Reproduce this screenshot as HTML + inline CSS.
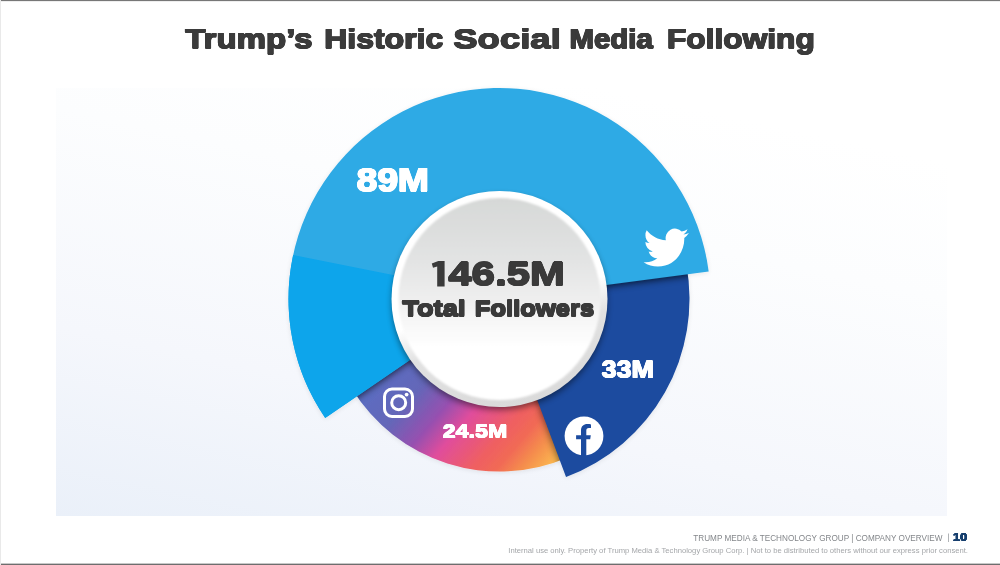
<!DOCTYPE html>
<html><head><meta charset="utf-8"><title>Trump's Historic Social Media Following</title>
<style>
html,body{margin:0;padding:0;background:#fff;}
body{width:1000px;height:565px;overflow:hidden;position:relative;font-family:"Liberation Sans",sans-serif;}
svg{position:absolute;left:0;top:0;display:block;}
text{font-family:"Liberation Sans",sans-serif;}
</style></head><body>
<svg width="1000" height="565" viewBox="0 0 1000 565">
<defs>
<linearGradient id="panel" gradientUnits="userSpaceOnUse" x1="600" y1="88" x2="488" y2="610">
<stop offset="0" stop-color="#ffffff"/><stop offset="0.25" stop-color="#fcfdfe"/><stop offset="0.65" stop-color="#f5f7fc"/><stop offset="1" stop-color="#eaf0f9"/>
</linearGradient>
<linearGradient id="ig" gradientUnits="userSpaceOnUse" x1="360" y1="395" x2="504.4" y2="518.5">
<stop offset="0" stop-color="#5a6ec2"/><stop offset="0.22" stop-color="#6566b8"/><stop offset="0.38" stop-color="#9650b0"/>
<stop offset="0.51" stop-color="#e04d9c"/><stop offset="0.70" stop-color="#ef5f62"/><stop offset="0.80" stop-color="#f16a55"/><stop offset="0.90" stop-color="#f58f4d"/><stop offset="1" stop-color="#fbb450"/>
</linearGradient>
<linearGradient id="disc" x1="0" y1="0" x2="0" y2="1">
<stop offset="0" stop-color="#d6d8d7"/><stop offset="0.3" stop-color="#e2e3e3"/><stop offset="0.5" stop-color="#eeeeee"/><stop offset="0.6" stop-color="#f6f6f6"/><stop offset="0.74" stop-color="#ffffff"/><stop offset="1" stop-color="#ffffff"/>
</linearGradient>
<linearGradient id="rim" gradientUnits="userSpaceOnUse" x1="471.5" y1="194.7" x2="527.5" y2="403.3">
<stop offset="0" stop-color="#ffffff"/><stop offset="0.52" stop-color="#ffffff"/><stop offset="0.68" stop-color="#e1e1e1"/><stop offset="1" stop-color="#dadada"/>
</linearGradient>
<filter id="sh" x="-20%" y="-20%" width="140%" height="140%"><feGaussianBlur in="SourceAlpha" stdDeviation="4"/><feOffset dx="0" dy="2"/><feComponentTransfer><feFuncA type="linear" slope="0.45"/></feComponentTransfer><feMerge><feMergeNode/><feMergeNode in="SourceGraphic"/></feMerge></filter>
<filter id="sh2" x="-20%" y="-20%" width="140%" height="140%"><feGaussianBlur in="SourceAlpha" stdDeviation="3"/><feOffset dx="0" dy="1"/><feComponentTransfer><feFuncA type="linear" slope="0.5"/></feComponentTransfer><feMerge><feMergeNode/><feMergeNode in="SourceGraphic"/></feMerge></filter>
<clipPath id="clipIG"><path d="M568.32 457.28A172.6 172.6 0 0 1 352.02 388.67L414.05 350.95A100 100 0 0 0 539.37 390.71Z"/></clipPath>
<clipPath id="clipIGFB"><path d="M568.32 457.28A172.6 172.6 0 0 1 352.02 388.67L414.05 350.95A100 100 0 0 0 539.37 390.71Z"/><path d="M686.32 264.38A190.0 190.0 0 0 1 566.04 476.97L534.52 392.67A100 100 0 0 0 597.83 280.78Z"/></clipPath>
<clipPath id="clipAll"><path d="M568.32 457.28A172.6 172.6 0 0 1 352.02 388.67L414.05 350.95A100 100 0 0 0 539.37 390.71Z"/><path d="M686.32 264.38A190.0 190.0 0 0 1 566.04 476.97L534.52 392.67A100 100 0 0 0 597.83 280.78Z"/><path d="M325.19 417.90A211.0 211.0 0 1 1 708.69 271.46L598.64 285.95A100 100 0 1 0 416.89 355.35Z"/></clipPath>
<filter id="blurIn" x="-20%" y="-20%" width="140%" height="140%"><feGaussianBlur stdDeviation="3.5"/></filter>
<filter id="soft" x="-5%" y="-5%" width="110%" height="110%"><feGaussianBlur stdDeviation="0.9"/></filter>
<filter id="blurBtn" x="-20%" y="-20%" width="140%" height="140%"><feGaussianBlur stdDeviation="3"/></filter>
<filter id="shOut" x="-20%" y="-20%" width="140%" height="140%"><feGaussianBlur in="SourceAlpha" stdDeviation="2.5"/><feOffset dx="0" dy="1"/><feComponentTransfer><feFuncA type="linear" slope="0.09"/></feComponentTransfer><feMerge><feMergeNode/><feMergeNode in="SourceGraphic"/></feMerge></filter>
</defs>
<rect x="0" y="0" width="1000" height="565" fill="#fff"/>
<rect x="56" y="88" width="891" height="428" fill="url(#panel)"/>
<!-- segments -->
<path d="M568.32 457.28A172.6 172.6 0 0 1 352.02 388.67L414.05 350.95A100 100 0 0 0 539.37 390.71Z" fill="url(#ig)" filter="url(#shOut)"/>
<g clip-path="url(#clipIG)"><path d="M686.32 264.38A190.0 190.0 0 0 1 566.04 476.97L534.52 392.67A100 100 0 0 0 597.83 280.78Z" fill="#000" filter="url(#blurIn)" opacity="0.42" transform="translate(-1 1)"/></g>
<path d="M686.32 264.38A190.0 190.0 0 0 1 566.04 476.97L534.52 392.67A100 100 0 0 0 597.83 280.78Z" fill="#1b4b9f" filter="url(#shOut)"/>
<g clip-path="url(#clipIGFB)"><path d="M325.19 417.90A211.0 211.0 0 1 1 708.69 271.46L598.64 285.95A100 100 0 1 0 416.89 355.35Z" fill="#000" filter="url(#blurIn)" opacity="0.6" transform="translate(0 2)"/></g>
<g filter="url(#shOut)"><path d="M325.19 417.90A211.0 211.0 0 1 1 708.69 271.46L598.64 285.95A100 100 0 1 0 416.89 355.35Z" fill="#2faae5"/><path d="M325.19 417.90A211.0 211.0 0 0 1 293.15 254.95L402.02 276.67A100 100 0 0 0 416.89 355.35Z" fill="#0ca5eb"/></g>
<!-- centre button -->
<g clip-path="url(#clipAll)"><circle cx="499.5" cy="302.5" r="107.5" fill="#000" filter="url(#blurBtn)" opacity="0.45"/></g>
<circle cx="499.5" cy="299.0" r="108" fill="url(#rim)"/>
<circle cx="499.5" cy="299.0" r="101" fill="url(#disc)" filter="url(#soft)"/>
<!-- icons -->
<g transform="translate(643.6 224.2) scale(1.8875 1.944)"><path d="M23.953 4.57a10 10 0 01-2.825.775 4.958 4.958 0 002.163-2.723c-.951.555-2.005.959-3.127 1.184a4.92 4.92 0 00-8.384 4.482C7.69 8.095 4.067 6.13 1.64 3.162a4.822 4.822 0 00-.666 2.475c0 1.71.87 3.213 2.188 4.096a4.904 4.904 0 01-2.228-.616v.06a4.923 4.923 0 003.946 4.827 4.996 4.996 0 01-2.212.085 4.936 4.936 0 004.604 3.417 9.867 9.867 0 01-6.102 2.105c-.39 0-.779-.023-1.17-.067a13.995 13.995 0 007.557 2.209c9.053 0 13.998-7.496 13.998-13.985 0-.21 0-.42-.015-.63A9.935 9.935 0 0024 4.59z" fill="#fff"/></g>
<circle cx="584" cy="436" r="19.4" fill="#fff"/>
<path d="M581 456V439.3H576.1V435.3H581V430.6C581 426.4 583.6 424.1 587.4 424.1C589 424.1 590.2 424.25 591 424.4V428H588.9C587 428 586.3 428.9 586.3 430.7V435.3H590.8L590.2 439.3H586.3V456Z" fill="#1b4b9f"/>
<g fill="none" stroke="#fff" stroke-width="3"><rect x="384.5" y="389" width="28" height="27.5" rx="7.5"/><circle cx="398.7" cy="402.7" r="7"/></g>
<circle cx="406.6" cy="394.6" r="1.9" fill="#fff"/>
<!-- labels -->
<g opacity="0.999">
<g fill="#fff"><text x="356.59" y="191.39" font-size="32.55" font-weight="bold" textLength="72.39" lengthAdjust="spacingAndGlyphs">89M</text><text x="357.45" y="191.39" font-size="32.55" font-weight="bold" textLength="72.39" lengthAdjust="spacingAndGlyphs">89M</text><text x="357.20" y="192.00" font-size="32.55" font-weight="bold" textLength="72.39" lengthAdjust="spacingAndGlyphs">89M</text><text x="356.59" y="192.25" font-size="32.55" font-weight="bold" textLength="72.39" lengthAdjust="spacingAndGlyphs">89M</text><text x="355.98" y="192.00" font-size="32.55" font-weight="bold" textLength="72.39" lengthAdjust="spacingAndGlyphs">89M</text><text x="355.73" y="191.39" font-size="32.55" font-weight="bold" textLength="72.39" lengthAdjust="spacingAndGlyphs">89M</text><text x="355.98" y="190.78" font-size="32.55" font-weight="bold" textLength="72.39" lengthAdjust="spacingAndGlyphs">89M</text><text x="356.59" y="190.53" font-size="32.55" font-weight="bold" textLength="72.39" lengthAdjust="spacingAndGlyphs">89M</text><text x="357.20" y="190.78" font-size="32.55" font-weight="bold" textLength="72.39" lengthAdjust="spacingAndGlyphs">89M</text></g>
<g fill="#fff"><text x="601.64" y="377.61" font-size="23.92" font-weight="bold" textLength="52.28" lengthAdjust="spacingAndGlyphs">33M</text><text x="602.27" y="377.61" font-size="23.92" font-weight="bold" textLength="52.28" lengthAdjust="spacingAndGlyphs">33M</text><text x="602.09" y="378.06" font-size="23.92" font-weight="bold" textLength="52.28" lengthAdjust="spacingAndGlyphs">33M</text><text x="601.64" y="378.25" font-size="23.92" font-weight="bold" textLength="52.28" lengthAdjust="spacingAndGlyphs">33M</text><text x="601.19" y="378.06" font-size="23.92" font-weight="bold" textLength="52.28" lengthAdjust="spacingAndGlyphs">33M</text><text x="601.00" y="377.61" font-size="23.92" font-weight="bold" textLength="52.28" lengthAdjust="spacingAndGlyphs">33M</text><text x="601.19" y="377.16" font-size="23.92" font-weight="bold" textLength="52.28" lengthAdjust="spacingAndGlyphs">33M</text><text x="601.64" y="376.98" font-size="23.92" font-weight="bold" textLength="52.28" lengthAdjust="spacingAndGlyphs">33M</text><text x="602.09" y="377.16" font-size="23.92" font-weight="bold" textLength="52.28" lengthAdjust="spacingAndGlyphs">33M</text></g>
<g fill="#fff"><text x="442.75" y="437.74" font-size="18.94" font-weight="bold" textLength="64.53" lengthAdjust="spacingAndGlyphs">24.5M</text><text x="443.26" y="437.74" font-size="18.94" font-weight="bold" textLength="64.53" lengthAdjust="spacingAndGlyphs">24.5M</text><text x="443.11" y="438.10" font-size="18.94" font-weight="bold" textLength="64.53" lengthAdjust="spacingAndGlyphs">24.5M</text><text x="442.75" y="438.25" font-size="18.94" font-weight="bold" textLength="64.53" lengthAdjust="spacingAndGlyphs">24.5M</text><text x="442.39" y="438.10" font-size="18.94" font-weight="bold" textLength="64.53" lengthAdjust="spacingAndGlyphs">24.5M</text><text x="442.24" y="437.74" font-size="18.94" font-weight="bold" textLength="64.53" lengthAdjust="spacingAndGlyphs">24.5M</text><text x="442.39" y="437.38" font-size="18.94" font-weight="bold" textLength="64.53" lengthAdjust="spacingAndGlyphs">24.5M</text><text x="442.75" y="437.23" font-size="18.94" font-weight="bold" textLength="64.53" lengthAdjust="spacingAndGlyphs">24.5M</text><text x="443.11" y="437.38" font-size="18.94" font-weight="bold" textLength="64.53" lengthAdjust="spacingAndGlyphs">24.5M</text></g>
<path d="M444.6 261V286.6H437.2V266.4L433 267.8L431.8 263.5L438.3 261Z" fill="#3a3a3a"/><g fill="#3a3a3a"><text x="448.41" y="285.35" font-size="33.88" font-weight="bold" textLength="116.50" lengthAdjust="spacingAndGlyphs">46.5M</text><text x="449.31" y="285.35" font-size="33.88" font-weight="bold" textLength="116.50" lengthAdjust="spacingAndGlyphs">46.5M</text><text x="449.04" y="285.98" font-size="33.88" font-weight="bold" textLength="116.50" lengthAdjust="spacingAndGlyphs">46.5M</text><text x="448.41" y="286.25" font-size="33.88" font-weight="bold" textLength="116.50" lengthAdjust="spacingAndGlyphs">46.5M</text><text x="447.78" y="285.98" font-size="33.88" font-weight="bold" textLength="116.50" lengthAdjust="spacingAndGlyphs">46.5M</text><text x="447.52" y="285.35" font-size="33.88" font-weight="bold" textLength="116.50" lengthAdjust="spacingAndGlyphs">46.5M</text><text x="447.78" y="284.72" font-size="33.88" font-weight="bold" textLength="116.50" lengthAdjust="spacingAndGlyphs">46.5M</text><text x="448.41" y="284.46" font-size="33.88" font-weight="bold" textLength="116.50" lengthAdjust="spacingAndGlyphs">46.5M</text><text x="449.04" y="284.72" font-size="33.88" font-weight="bold" textLength="116.50" lengthAdjust="spacingAndGlyphs">46.5M</text></g>
<g fill="#3a3a3a"><text x="402.31" y="315.96" font-size="21.82" font-weight="bold" textLength="63.19" lengthAdjust="spacingAndGlyphs">Total</text><text x="403.10" y="315.96" font-size="21.82" font-weight="bold" textLength="63.19" lengthAdjust="spacingAndGlyphs">Total</text><text x="402.87" y="316.52" font-size="21.82" font-weight="bold" textLength="63.19" lengthAdjust="spacingAndGlyphs">Total</text><text x="402.31" y="316.75" font-size="21.82" font-weight="bold" textLength="63.19" lengthAdjust="spacingAndGlyphs">Total</text><text x="401.75" y="316.52" font-size="21.82" font-weight="bold" textLength="63.19" lengthAdjust="spacingAndGlyphs">Total</text><text x="401.52" y="315.96" font-size="21.82" font-weight="bold" textLength="63.19" lengthAdjust="spacingAndGlyphs">Total</text><text x="401.75" y="315.40" font-size="21.82" font-weight="bold" textLength="63.19" lengthAdjust="spacingAndGlyphs">Total</text><text x="402.31" y="315.17" font-size="21.82" font-weight="bold" textLength="63.19" lengthAdjust="spacingAndGlyphs">Total</text><text x="402.87" y="315.40" font-size="21.82" font-weight="bold" textLength="63.19" lengthAdjust="spacingAndGlyphs">Total</text></g><g fill="#3a3a3a"><text x="474.77" y="315.96" font-size="21.82" font-weight="bold" textLength="119.44" lengthAdjust="spacingAndGlyphs">Followers</text><text x="475.56" y="315.96" font-size="21.82" font-weight="bold" textLength="119.44" lengthAdjust="spacingAndGlyphs">Followers</text><text x="475.33" y="316.52" font-size="21.82" font-weight="bold" textLength="119.44" lengthAdjust="spacingAndGlyphs">Followers</text><text x="474.77" y="316.75" font-size="21.82" font-weight="bold" textLength="119.44" lengthAdjust="spacingAndGlyphs">Followers</text><text x="474.21" y="316.52" font-size="21.82" font-weight="bold" textLength="119.44" lengthAdjust="spacingAndGlyphs">Followers</text><text x="473.98" y="315.96" font-size="21.82" font-weight="bold" textLength="119.44" lengthAdjust="spacingAndGlyphs">Followers</text><text x="474.21" y="315.40" font-size="21.82" font-weight="bold" textLength="119.44" lengthAdjust="spacingAndGlyphs">Followers</text><text x="474.77" y="315.17" font-size="21.82" font-weight="bold" textLength="119.44" lengthAdjust="spacingAndGlyphs">Followers</text><text x="475.33" y="315.40" font-size="21.82" font-weight="bold" textLength="119.44" lengthAdjust="spacingAndGlyphs">Followers</text></g>
<g fill="#3b3b3b"><text x="185.23" y="48.26" font-size="26.96" font-weight="bold" textLength="127.30" lengthAdjust="spacingAndGlyphs">Trump’s</text><text x="185.96" y="48.26" font-size="26.96" font-weight="bold" textLength="127.30" lengthAdjust="spacingAndGlyphs">Trump’s</text><text x="185.75" y="48.78" font-size="26.96" font-weight="bold" textLength="127.30" lengthAdjust="spacingAndGlyphs">Trump’s</text><text x="185.23" y="48.99" font-size="26.96" font-weight="bold" textLength="127.30" lengthAdjust="spacingAndGlyphs">Trump’s</text><text x="184.71" y="48.78" font-size="26.96" font-weight="bold" textLength="127.30" lengthAdjust="spacingAndGlyphs">Trump’s</text><text x="184.50" y="48.26" font-size="26.96" font-weight="bold" textLength="127.30" lengthAdjust="spacingAndGlyphs">Trump’s</text><text x="184.71" y="47.74" font-size="26.96" font-weight="bold" textLength="127.30" lengthAdjust="spacingAndGlyphs">Trump’s</text><text x="185.23" y="47.53" font-size="26.96" font-weight="bold" textLength="127.30" lengthAdjust="spacingAndGlyphs">Trump’s</text><text x="185.75" y="47.74" font-size="26.96" font-weight="bold" textLength="127.30" lengthAdjust="spacingAndGlyphs">Trump’s</text></g><g fill="#3b3b3b"><text x="324.20" y="48.26" font-size="26.96" font-weight="bold" textLength="119.06" lengthAdjust="spacingAndGlyphs">Historic</text><text x="324.94" y="48.26" font-size="26.96" font-weight="bold" textLength="119.06" lengthAdjust="spacingAndGlyphs">Historic</text><text x="324.72" y="48.78" font-size="26.96" font-weight="bold" textLength="119.06" lengthAdjust="spacingAndGlyphs">Historic</text><text x="324.20" y="49.00" font-size="26.96" font-weight="bold" textLength="119.06" lengthAdjust="spacingAndGlyphs">Historic</text><text x="323.68" y="48.78" font-size="26.96" font-weight="bold" textLength="119.06" lengthAdjust="spacingAndGlyphs">Historic</text><text x="323.46" y="48.26" font-size="26.96" font-weight="bold" textLength="119.06" lengthAdjust="spacingAndGlyphs">Historic</text><text x="323.68" y="47.74" font-size="26.96" font-weight="bold" textLength="119.06" lengthAdjust="spacingAndGlyphs">Historic</text><text x="324.20" y="47.52" font-size="26.96" font-weight="bold" textLength="119.06" lengthAdjust="spacingAndGlyphs">Historic</text><text x="324.72" y="47.74" font-size="26.96" font-weight="bold" textLength="119.06" lengthAdjust="spacingAndGlyphs">Historic</text></g><g fill="#3b3b3b"><text x="453.23" y="48.26" font-size="26.96" font-weight="bold" textLength="107.59" lengthAdjust="spacingAndGlyphs">Social</text><text x="453.97" y="48.26" font-size="26.96" font-weight="bold" textLength="107.59" lengthAdjust="spacingAndGlyphs">Social</text><text x="453.75" y="48.78" font-size="26.96" font-weight="bold" textLength="107.59" lengthAdjust="spacingAndGlyphs">Social</text><text x="453.23" y="49.00" font-size="26.96" font-weight="bold" textLength="107.59" lengthAdjust="spacingAndGlyphs">Social</text><text x="452.71" y="48.78" font-size="26.96" font-weight="bold" textLength="107.59" lengthAdjust="spacingAndGlyphs">Social</text><text x="452.49" y="48.26" font-size="26.96" font-weight="bold" textLength="107.59" lengthAdjust="spacingAndGlyphs">Social</text><text x="452.71" y="47.74" font-size="26.96" font-weight="bold" textLength="107.59" lengthAdjust="spacingAndGlyphs">Social</text><text x="453.23" y="47.52" font-size="26.96" font-weight="bold" textLength="107.59" lengthAdjust="spacingAndGlyphs">Social</text><text x="453.75" y="47.74" font-size="26.96" font-weight="bold" textLength="107.59" lengthAdjust="spacingAndGlyphs">Social</text></g><g fill="#3b3b3b"><text x="569.47" y="48.26" font-size="26.96" font-weight="bold" textLength="83.27" lengthAdjust="spacingAndGlyphs">Media</text><text x="570.21" y="48.26" font-size="26.96" font-weight="bold" textLength="83.27" lengthAdjust="spacingAndGlyphs">Media</text><text x="569.99" y="48.78" font-size="26.96" font-weight="bold" textLength="83.27" lengthAdjust="spacingAndGlyphs">Media</text><text x="569.47" y="49.00" font-size="26.96" font-weight="bold" textLength="83.27" lengthAdjust="spacingAndGlyphs">Media</text><text x="568.95" y="48.78" font-size="26.96" font-weight="bold" textLength="83.27" lengthAdjust="spacingAndGlyphs">Media</text><text x="568.73" y="48.26" font-size="26.96" font-weight="bold" textLength="83.27" lengthAdjust="spacingAndGlyphs">Media</text><text x="568.95" y="47.74" font-size="26.96" font-weight="bold" textLength="83.27" lengthAdjust="spacingAndGlyphs">Media</text><text x="569.47" y="47.52" font-size="26.96" font-weight="bold" textLength="83.27" lengthAdjust="spacingAndGlyphs">Media</text><text x="569.99" y="47.74" font-size="26.96" font-weight="bold" textLength="83.27" lengthAdjust="spacingAndGlyphs">Media</text></g><g fill="#3b3b3b"><text x="666.94" y="48.26" font-size="26.96" font-weight="bold" textLength="147.87" lengthAdjust="spacingAndGlyphs">Following</text><text x="667.67" y="48.26" font-size="26.96" font-weight="bold" textLength="147.87" lengthAdjust="spacingAndGlyphs">Following</text><text x="667.46" y="48.78" font-size="26.96" font-weight="bold" textLength="147.87" lengthAdjust="spacingAndGlyphs">Following</text><text x="666.94" y="48.99" font-size="26.96" font-weight="bold" textLength="147.87" lengthAdjust="spacingAndGlyphs">Following</text><text x="666.42" y="48.78" font-size="26.96" font-weight="bold" textLength="147.87" lengthAdjust="spacingAndGlyphs">Following</text><text x="666.21" y="48.26" font-size="26.96" font-weight="bold" textLength="147.87" lengthAdjust="spacingAndGlyphs">Following</text><text x="666.42" y="47.74" font-size="26.96" font-weight="bold" textLength="147.87" lengthAdjust="spacingAndGlyphs">Following</text><text x="666.94" y="47.53" font-size="26.96" font-weight="bold" textLength="147.87" lengthAdjust="spacingAndGlyphs">Following</text><text x="667.46" y="47.74" font-size="26.96" font-weight="bold" textLength="147.87" lengthAdjust="spacingAndGlyphs">Following</text></g>
<!-- footer -->
<text x="693.25" y="541.00" fill="#84878b" font-size="9.43" font-weight="normal" textLength="249.25" lengthAdjust="spacingAndGlyphs">TRUMP MEDIA &amp; TECHNOLOGY GROUP | COMPANY OVERVIEW</text>
<rect x="948" y="533.5" width="0.9" height="8.5" fill="#a9acaf"/>
<g fill="#173f6e"><text x="952.93" y="540.77" font-size="10.09" font-weight="bold" textLength="14.36" lengthAdjust="spacingAndGlyphs">10</text><text x="953.16" y="540.77" font-size="10.09" font-weight="bold" textLength="14.36" lengthAdjust="spacingAndGlyphs">10</text><text x="953.10" y="540.94" font-size="10.09" font-weight="bold" textLength="14.36" lengthAdjust="spacingAndGlyphs">10</text><text x="952.93" y="541.00" font-size="10.09" font-weight="bold" textLength="14.36" lengthAdjust="spacingAndGlyphs">10</text><text x="952.76" y="540.94" font-size="10.09" font-weight="bold" textLength="14.36" lengthAdjust="spacingAndGlyphs">10</text><text x="952.69" y="540.77" font-size="10.09" font-weight="bold" textLength="14.36" lengthAdjust="spacingAndGlyphs">10</text><text x="952.76" y="540.60" font-size="10.09" font-weight="bold" textLength="14.36" lengthAdjust="spacingAndGlyphs">10</text><text x="952.93" y="540.53" font-size="10.09" font-weight="bold" textLength="14.36" lengthAdjust="spacingAndGlyphs">10</text><text x="953.10" y="540.60" font-size="10.09" font-weight="bold" textLength="14.36" lengthAdjust="spacingAndGlyphs">10</text></g>
<text x="508.25" y="553.00" fill="#a4a6a9" font-size="7.71" font-weight="normal" textLength="459.75" lengthAdjust="spacingAndGlyphs">Internal use only. Property of Trump Media &amp; Technology Group Corp. | Not to be distributed to others without our express prior consent.</text>
</g>
<!-- frame lines -->
<rect x="0" y="0" width="1000" height="1" fill="#777"/>
<rect x="0" y="1" width="1000" height="1" fill="#ddd" opacity="0.5"/>
<rect x="0" y="564" width="1000" height="1" fill="#6e6e6e"/>
<rect x="0" y="563" width="1000" height="1" fill="#c8c8c8"/>
<rect x="0" y="0" width="1" height="565" fill="#e9e9e9"/>
</svg>
</body></html>
